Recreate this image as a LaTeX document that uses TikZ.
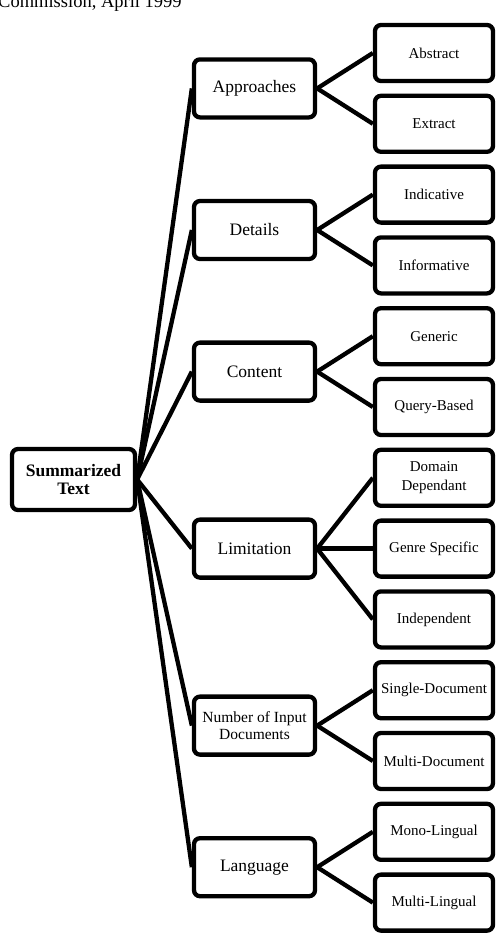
\documentclass[tikz,border=0pt]{standalone}
\usepackage{fontspec}
\setmainfont{Liberation Serif}
\begin{document}
\begin{tikzpicture}[x=1pt,y=-1pt,
  box/.style={draw=black,line width=4.3pt,rounded corners=6pt,fill=white,align=center,inner sep=2pt},
  rootbox/.style={box,minimum width=123pt,minimum height=61pt,font=\fontsize{17.5}{18}\selectfont\bfseries},
  midbox/.style={box,minimum width=121pt,minimum height=58pt,font=\fontsize{17.5}{20}\selectfont},
  leafbox/.style={box,minimum width=118pt,minimum height=56pt,font=\fontsize{15}{19.5}\selectfont},
  link/.style={line width=4.3pt}]
\useasboundingbox (0,0) rectangle (500,938);
\node[anchor=base west,inner sep=0pt,font=\fontsize{18.5}{20}\selectfont] (cap) at (-2,7) {Commission, April 1999};
% leaves
\node[leafbox] (l1) at (434,53) {Abstract};
\node[leafbox] (l2) at (434,123.8) {Extract};
\node[leafbox] (l3) at (434,194.6) {Indicative};
\node[leafbox] (l4) at (434,265.4) {Informative};
\node[leafbox] (l5) at (434,336.2) {Generic};
\node[leafbox] (l6) at (434,407) {Query-Based};
\node[leafbox] (l7) at (434,477.8) {Domain\\Dependant};
\node[leafbox] (l8) at (434,548.6) {Genre Specific};
\node[leafbox] (l9) at (434,619.4) {Independent};
\node[leafbox] (l10) at (434,690.2) {Single-Document};
\node[leafbox] (l11) at (434,761) {Multi-Document};
\node[leafbox] (l12) at (434,831.8) {Mono-Lingual};
\node[leafbox] (l13) at (434,902.6) {Multi-Lingual};
% middle
\node[midbox] (m1) at (254.5,88.4) {Approaches};
\node[midbox] (m2) at (254.5,230) {Details};
\node[midbox] (m3) at (254.5,371.6) {Content};
\node[midbox] (m4) at (254.5,548.6) {Limitation};
\node[midbox,font=\fontsize{15.5}{17}\selectfont] (m5) at (254.5,725.6) {Number of Input\\Documents};
\node[midbox] (m6) at (254.5,867.2) {Language};
% root
\node[rootbox] (r) at (73.5,479.5) {Summarized\\Text};
% connectors
\foreach \m in {m1,m2,m3,m4,m5,m6}{\draw[link] (r.east) -- (\m.west);}
\draw[link] (m1.east) -- (l1.west);
\draw[link] (m1.east) -- (l2.west);
\draw[link] (m2.east) -- (l3.west);
\draw[link] (m2.east) -- (l4.west);
\draw[link] (m3.east) -- (l5.west);
\draw[link] (m3.east) -- (l6.west);
\draw[link] (m4.east) -- (l7.west);
\draw[link] (m4.east) -- (l8.west);
\draw[link] (m4.east) -- (l9.west);
\draw[link] (m5.east) -- (l10.west);
\draw[link] (m5.east) -- (l11.west);
\draw[link] (m6.east) -- (l12.west);
\draw[link] (m6.east) -- (l13.west);
\end{tikzpicture}
\end{document}
